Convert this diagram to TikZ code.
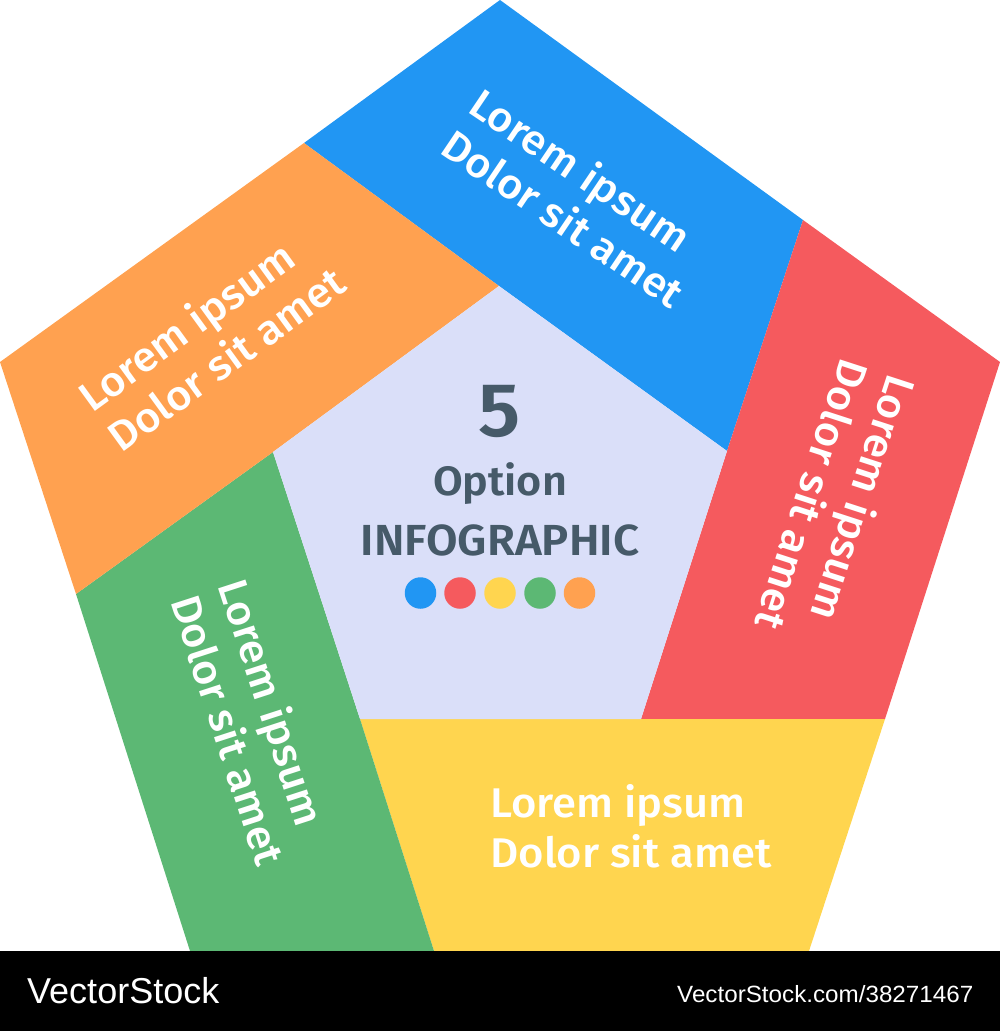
\documentclass[tikz,border=0pt]{standalone}
\usepackage{fontspec}
\setmainfont{Fira Sans Medium}[FakeStretch=1.05]
\newfontfamily\inkfont{Fira Sans SemiBold}[FakeStretch=1.05]
\newfontfamily\brandfont{Liberation Sans}
\newfontfamily\urlfont{Liberation Sans}[FakeStretch=1.03]
\definecolor{cblue}{HTML}{2196F3}
\definecolor{cred}{HTML}{F55A5E}
\definecolor{cyellow}{HTML}{FFD54F}
\definecolor{cgreen}{HTML}{5CB874}
\definecolor{corange}{HTML}{FFA150}
\definecolor{ccenter}{HTML}{DADFF9}
\definecolor{cink}{HTML}{465A69}
\tikzset{
  seglabel/.style={text=white,align=left,inner sep=0pt,font=\fontsize{41.5}{50}\selectfont},
  inklabel/.style={text=cink,inner sep=0pt},
  dot/.style={circle,minimum size=31.5pt,inner sep=0pt},
  foot/.style={text=white,inner sep=0pt,anchor=base west}
}
\begin{document}
\begin{tikzpicture}[x=1pt,y=-1pt]
\useasboundingbox (0,0) rectangle (1000,1031);
\fill[cblue] (304,143) -- (500,0) -- (803,220) -- (727,451) -- (499,286) -- cycle;
\fill[cred] (803,220) -- (1000,362) -- (885,719) -- (641,719) -- (727,451) -- cycle;
\fill[cyellow] (360,719) -- (885,719) -- (809,951) -- (434,951) -- cycle;
\fill[cgreen] (273,452) -- (360,719) -- (434,951) -- (190,951) -- (76,594) -- cycle;
\fill[corange] (0,362) -- (304,143) -- (499,286) -- (273,452) -- (76,594) -- cycle;
\fill[ccenter] (499,286) -- (727,451) -- (641,719) -- (360,719) -- (273,452) -- cycle;
\fill[black] (0,951) rectangle (1000,1031);
\node[seglabel,rotate=-34] (tblue) at (578,197) {Lorem ipsum\\Dolor sit amet};
\node[seglabel,rotate=-108] (tred) at (837,503) {Lorem ipsum\\Dolor sit amet};
\node[seglabel] (tyellow) at (631,826) {Lorem ipsum\\Dolor sit amet};
\node[seglabel,rotate=-72] (tgreen) at (253,722) {Lorem ipsum\\Dolor sit amet};
\node[seglabel,rotate=36] (torange) at (211,338) {Lorem ipsum\\Dolor sit amet};
\node[inklabel,font=\inkfont\fontsize{76}{76}\selectfont] (five) at (500,411) {5};
\node[inklabel,font=\inkfont\fontsize{41}{41}\selectfont,anchor=base] (opt) at (500,495) {Option};
\node[inklabel,font=\inkfont\fontsize{43.5}{44}\selectfont,anchor=base] (info) at (500,555) {INFOGRAPHIC};
\node[dot,fill=cblue] (d1) at (420.5,593) {};
\node[dot,fill=cred] (d2) at (460,593) {};
\node[dot,fill=cyellow] (d3) at (500,593) {};
\node[dot,fill=cgreen] (d4) at (540,593) {};
\node[dot,fill=corange] (d5) at (579.5,593) {};
\node[foot,font=\brandfont\fontsize{36}{36}\selectfont] (brand) at (27,1003) {VectorStock};
\node[foot,font=\urlfont\fontsize{23.5}{24}\selectfont] (url) at (677,1002) {VectorStock.com/38271467};
\end{tikzpicture}
\end{document}
